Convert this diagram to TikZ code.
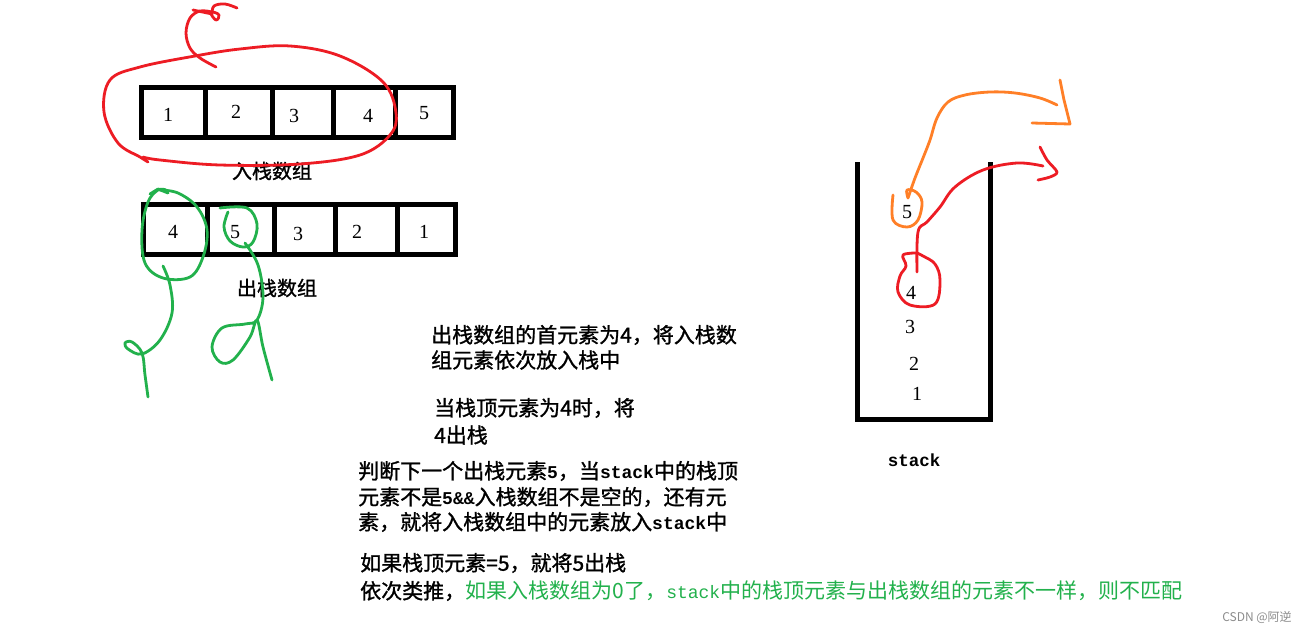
\documentclass[tikz,border=0pt]{standalone}
\usepackage{fontspec}
\setmainfont{Liberation Serif}
\newfontfamily\cjkb{Noto Sans CJK SC}[FakeBold=1.2]
\newfontfamily\cjkg{Noto Sans CJK SC}
\newfontfamily\lmono{Liberation Mono}
\definecolor{penred}{RGB}{237,28,36}
\definecolor{pengreen}{RGB}{34,177,76}
\definecolor{penorange}{RGB}{255,127,39}
\newcommand{\mst}[1]{{\lmono\bfseries\fontsize{18}{21}\selectfont #1}}
\newcommand{\mgs}[1]{{\lmono\fontsize{18}{21}\selectfont #1}}
\tikzset{
  thickline/.style={line width=5pt},
  redpen/.style={draw=penred,line width=2.8pt,line cap=round,line join=round},
  greenpen/.style={draw=pengreen,line width=2.8pt,line cap=round,line join=round},
  orangepen/.style={draw=penorange,line width=2.8pt,line cap=round,line join=round},
  num/.style={inner sep=0pt,font=\fontsize{20}{24}\selectfont},
  lbl/.style={inner sep=0pt,font=\cjkb\fontsize{20}{24}\selectfont},
  txt/.style={anchor=west,inner sep=0pt,font=\cjkb\fontsize{21}{25}\selectfont},
  gtxt/.style={anchor=west,inner sep=0pt,text=pengreen,font=\cjkg\fontsize{21}{25}\selectfont},
}
\begin{document}
\begin{tikzpicture}[x=1pt,y=-1pt]
\useasboundingbox (0,0) rectangle (1305,632);
\fill[white] (0,0) rectangle (1305,632);

% input array
\draw[thickline] (141,87) rectangle (453,137.5);
\foreach \xx in {205,272,333,395} \draw[thickline] (\xx,87) -- (\xx,137.5);
\node[num] (a1) at (168,115) {1};
\node[num] (a2) at (236,112) {2};
\node[num] (a3) at (294,116) {3};
\node[num] (a4) at (368,116) {4};
\node[num] (a5) at (424,113) {5};
\node[lbl] (inlbl) at (272,171) {入栈数组};

% output array
\draw[thickline] (143,204.5) rectangle (455,254.5);
\foreach \xx in {207,274,335,397} \draw[thickline] (\xx,204.5) -- (\xx,254.5);
\node[num] (b1) at (173,232) {4};
\node[num] (b2) at (235,232) {5};
\node[num] (b3) at (298,234) {3};
\node[num] (b4) at (357,232) {2};
\node[num] (b5) at (424,232) {1};
\node[lbl] (outlbl) at (277,288) {出栈数组};

% stack
\draw[thickline] (857.5,162) -- (857.5,419.5) -- (990.5,419.5) -- (990.5,162);
\node[num] (s5) at (907,212) {5};
\node[num] (s4) at (911,293) {4};
\node[num] (s3) at (910,327) {3};
\node[num] (s2) at (914,364) {2};
\node[num] (s1) at (917,394) {1};
\node[inner sep=0pt,font=\lmono\bfseries\fontsize{17.5}{21}\selectfont] (stacklbl) at (914,460) {stack};

% red ellipse around input array
\draw[redpen] plot[smooth,tension=0.6] coordinates {(148,162) (140,157) (118,143) (104,112) (110,80) (140,67) (195,56) (240,49) (290,46) (340,56) (383,82) (396,113) (390,135) (360,155) (300,164) (220,165) (160,160) (143,157)};
\draw[redpen] plot[smooth,tension=0.6] coordinates {(216,67) (200,58) (190,48) (186,33) (190,18) (200,11) (212,12)};
\draw[redpen] (193,10) -- (212,14);
\draw[redpen] plot[smooth,tension=0.6] coordinates {(212,14) (214,6) (225,4) (237,8)};
\draw[redpen] plot[smooth,tension=0.8] coordinates {(211,14) (216,20) (219,15) (213,12)};

% green strokes
\draw[greenpen] plot[smooth,tension=0.6] coordinates {(160,190) (178,193) (197,207) (207,230) (203,257) (190,277) (163,278) (145,263) (142,230) (148,202) (158,190) (166,190)};
\draw[greenpen] (150,194) -- (158,189) -- (168,193);
\draw[greenpen] plot[smooth,tension=0.6] coordinates {(163,266) (170,285) (172,313) (160,340) (142,354) (128,349) (125,343) (132,342) (142,353) (145,375) (148,397)};
\draw[greenpen] plot[smooth,tension=0.6] coordinates {(220,208) (247,208) (257,224) (253,242) (243,247) (230,241) (224,227) (228,212)};
\draw[greenpen] plot[smooth,tension=0.6] coordinates {(245,243) (258,265) (263,297) (257,320) (245,324) (222,328) (212,347) (220,362) (233,360) (250,337) (257,320) (263,347) (272,380)};

% orange in stack
\draw[orangepen] plot[smooth,tension=0.6] coordinates {(893,195) (893,220) (907,227) (918,220) (922,202) (916,192) (907,190) (908,198)};
\draw[orangepen] plot[smooth,tension=0.6] coordinates {(908,198) (915,178) (923,158) (930,140) (937,118) (948,102) (965,95) (990,92) (1015,93) (1040,98) (1057,105)};
\draw[orangepen] (1060,80) -- (1064,100) -- (1070,124) -- (1032,123);

% red in stack
\draw[redpen] plot[smooth,tension=0.6] coordinates {(917,272) (918,232) (927,222) (940,207) (955,187) (983,170) (1017,163) (1043,166)};
\draw[redpen] plot[smooth,tension=0.5] coordinates {(1040,147) (1047,160) (1057,172) (1050,177) (1038,180)};
\draw[redpen] plot[smooth,tension=0.6] coordinates {(917,253) (903,255) (906,266) (900,276) (898,292) (910,305) (935,304) (940,280) (935,264) (923,256) (917,253)};

% texts
\node[txt] (t1a) at (431,335) {出栈数组的首元素为4，将入栈数};
\node[txt] (t1b) at (431,360) {组元素依次放入栈中};
\node[txt] (t2a) at (434,408) {当栈顶元素为4时，将};
\node[txt] (t2b) at (434,435) {4出栈};
\node[txt] (t3a) at (358,471) {判断下一个出栈元素\mst{5}，当\mst{stack}中的栈顶};
\node[txt] (t3b) at (358,497) {元素不是\mst{5\&\&}入栈数组不是空的，还有元};
\node[txt] (t3c) at (358,522) {素，就将入栈数组中的元素放入\mst{stack}中};
\node[txt] (t4a) at (360,563) {如果栈顶元素=5，就将5出栈};
\node[txt] (t4b) at (360,591) {依次类推，};
\node[gtxt] (t4c) at (t4b.east) {如果入栈数组为0了，\mgs{stack}中的栈顶元素与出栈数组的元素不一样，则不匹配};

\node[inner sep=0pt,text=black!45,font=\cjkg\fontsize{12}{14}\selectfont] (wm) at (1257,617) {CSDN @阿逆};
\end{tikzpicture}
\end{document}
